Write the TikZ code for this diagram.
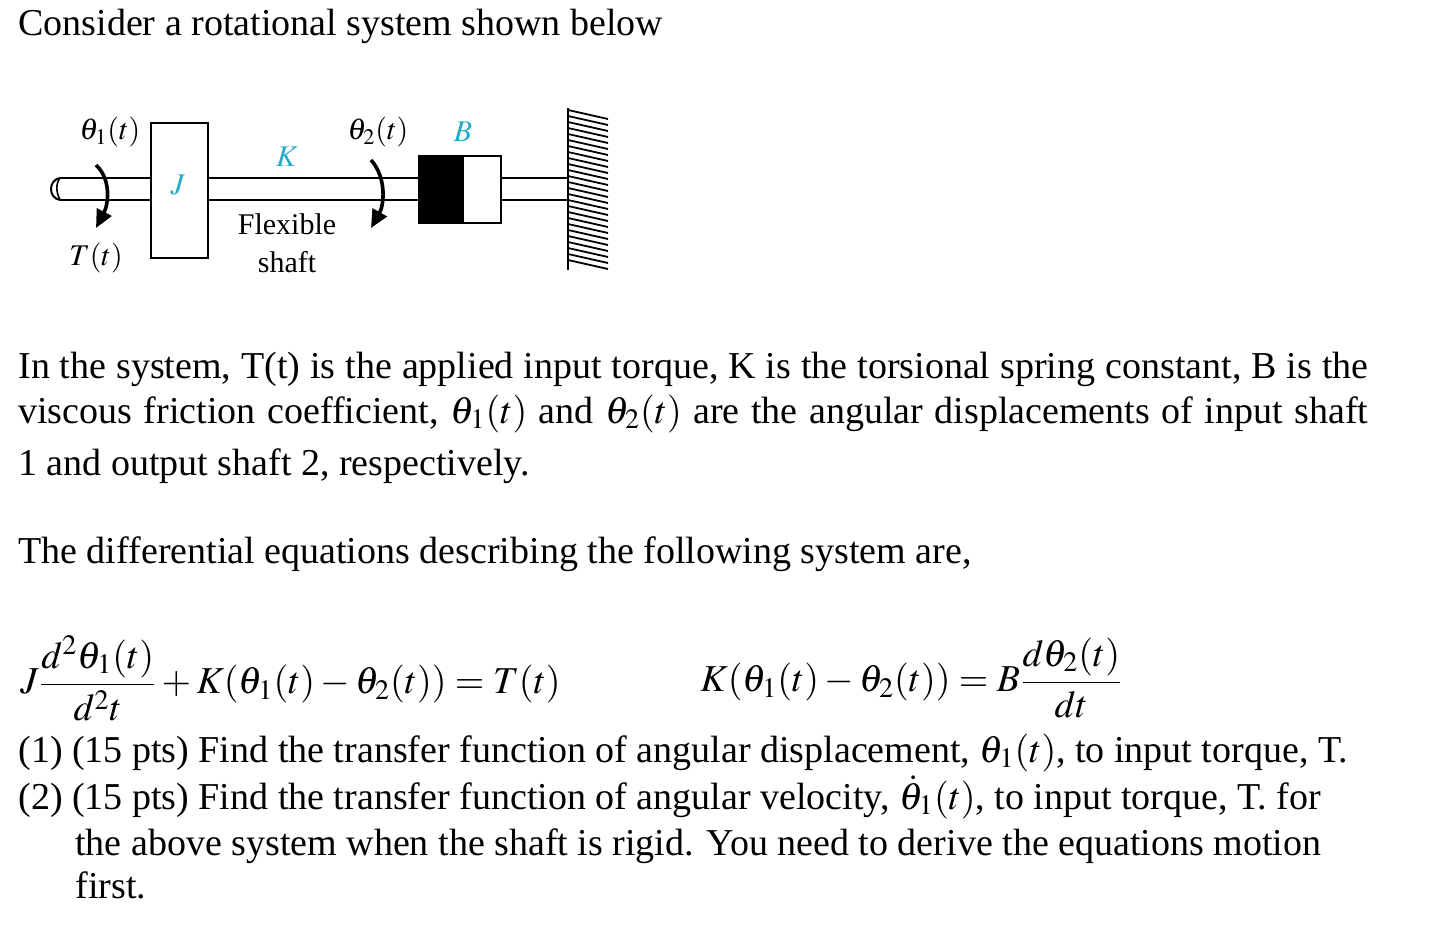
\documentclass[tikz,border=0pt]{standalone}
\usepackage{amsmath}
\usepackage{mathptmx}
\usepackage{fontspec}
\setmainfont{Liberation Serif}
\setsansfont{Liberation Serif}
\usetikzlibrary{arrows.meta,patterns}
\definecolor{cy}{RGB}{40,170,200}
\begin{document}
\begin{tikzpicture}[x=0.5pt,y=-0.5pt,
  txt/.style={anchor=base west,inner sep=0pt,font=\fontsize{19}{23}\selectfont},
  lbl/.style={inner sep=0pt,font=\fontsize{15}{17}\selectfont},
  part/.style={draw,line width=1pt,fill=white},
  rot/.style={line width=1.8pt,-{Triangle[length=9pt,width=8pt]}}]
\useasboundingbox (0,0) rectangle (1434,948);
% shaft
\draw[line width=1pt] (60,178) -- (568,178) (60,200) -- (568,200);
\draw[line width=1pt] (60,178) .. controls (48,180) and (48,198) .. (60,200);
\draw[line width=0.8pt] (60,178) .. controls (54,186) and (58,196) .. (60,200);
\node[part,minimum width=28.5pt,minimum height=67.5pt,anchor=north west] (J) at (150,122) {};
\node[lbl,text=cy] at (178,185) {$J$};
\node[draw,line width=1pt,fill=black,minimum width=22pt,minimum height=33.5pt,inner sep=0pt,anchor=north west] (Bb) at (418,155) {};
\node[part,minimum width=19pt,minimum height=33.5pt,inner sep=0pt,anchor=north west] (Bw) at (462,155) {};
\fill[white] (568,105) rectangle (612,272);
\draw[line width=1.4pt] (568,108) -- (568,270);
\foreach \y in {110,116,...,262} \draw[line width=0.9pt] (568,\y) -- (608,\y+9);
% rotation arrows
\draw[rot] (96,165) .. controls (112,180) and (108,205) .. (96,228);
\draw[rot] (371,160) .. controls (387,178) and (384,205) .. (371,228);
\node[lbl] (t1) at (110,132) {$\theta_1(t)$};
\node[lbl] (T) at (96,258) {$T(t)$};
\node[lbl,text=cy] (K) at (287,157) {$K$};
\node[lbl] (t2) at (378,132) {$\theta_2(t)$};
\node[lbl,text=cy] (B) at (463,132) {$B$};
\node[lbl] (fl) at (287,224) {Flexible};
\node[lbl] (sh) at (287,262) {shaft};
% text
\node[txt] (l0) at (18,35) {Consider a rotational system shown below};
\node[txt] (l1) at (18,378) {\makebox[675pt][s]{In the system, T(t) is the applied input torque, K is the torsional spring constant, B is the}};
\node[txt] (l2) at (18,423) {\makebox[675pt][s]{viscous friction coefficient, $\theta_1(t)$ and $\theta_2(t)$ are the angular displacements of input shaft}};
\node[txt] (l3) at (18,475) {1 and output shaft 2, respectively.};
\node[txt] (l4) at (18,563) {The differential equations describing the following system are,};
\node[txt,anchor=west] (e1) at (20,678) {$J\dfrac{d^2\theta_1(t)}{d^2t}+K(\theta_1(t)-\theta_2(t))=T(t)$};
\node[txt,anchor=west] (e2) at (700,678) {$K(\theta_1(t)-\theta_2(t))=B\dfrac{d\theta_2(t)}{dt}$};
\node[txt] (q1) at (18,762) {(1) (15 pts) Find the transfer function of angular displacement, $\theta_1(t)$, to input torque, T.};
\node[txt] (q2) at (18,809) {(2) (15 pts) Find the transfer function of angular velocity, $\dot\theta_1(t)$, to input torque, T. for};
\node[txt] (q3) at (75,855) {the above system when the shaft is rigid. You need to derive the equations motion};
\node[txt] (q4) at (75,898) {first.};
\end{tikzpicture}
\end{document}
